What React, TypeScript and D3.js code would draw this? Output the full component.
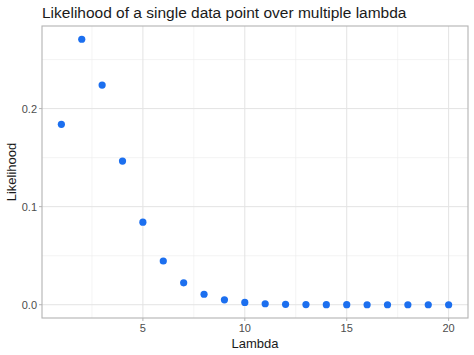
import React from "react";
import * as d3 from "d3";

const lambdas = [1, 2, 3, 4, 5, 6, 7, 8, 9, 10, 11, 12, 13, 14, 15, 16, 17, 18, 19, 20];
const likelihoods = [0.1839, 0.2707, 0.2240, 0.1465, 0.0842, 0.0446, 0.0223, 0.0107, 0.0050, 0.0023, 0.0010, 0.0004, 0.0002, 0.0001, 0.0001, 0.0000, 0.0000, 0.0000, 0.0000, 0.0000];
const xTicks = [5, 10, 15, 20];
const xMinor = [2.5, 7.5, 12.5, 17.5];
const yTicks = [0, 0.1, 0.2];
const yMinor = [0.05, 0.15, 0.25];
const title = "Likelihood of a single data point over multiple lambda";
const xLabel = "Lambda";
const yLabel = "Likelihood";

export default function App() {
  const W = 474, H = 355;
  const left = 42, right = 468, top = 26, bottom = 318;
  const x = d3.scaleLinear().domain([0.05, 20.95]).range([left, right]);
  const y = d3.scaleLinear().domain([-0.01353, 0.2842]).range([bottom, top]);
  const font = "Liberation Sans, Arial, Helvetica, sans-serif";
  return (
    <svg width={W} height={H} style={{ position: "absolute", left: 0, top: 0, background: "#fff" }} fontFamily={font}>
      <rect x={0} y={0} width={W} height={H} fill="#fff" />
      <text x={left} y={18} fontSize={15.5} fill="#1a1a1a">{title}</text>
      {xMinor.map((v) => (
        <line key={"xm" + v} x1={x(v)} x2={x(v)} y1={top} y2={bottom} stroke="#EDEDED" strokeWidth={0.6} />
      ))}
      {yMinor.map((v) => (
        <line key={"ym" + v} x1={left} x2={right} y1={y(v)} y2={y(v)} stroke="#EDEDED" strokeWidth={0.6} />
      ))}
      {xTicks.map((v) => (
        <line key={"xg" + v} x1={x(v)} x2={x(v)} y1={top} y2={bottom} stroke="#E3E3E3" strokeWidth={1} />
      ))}
      {yTicks.map((v) => (
        <line key={"yg" + v} x1={left} x2={right} y1={y(v)} y2={y(v)} stroke="#E3E3E3" strokeWidth={1} />
      ))}
      {lambdas.map((l, i) => (
        <circle key={l} cx={x(l)} cy={y(likelihoods[i])} r={3.6} fill="#1C6FEF" />
      ))}
      <rect x={left} y={top} width={right - left} height={bottom - top} fill="none" stroke="#B3B3B3" strokeWidth={1.1} />
      {xTicks.map((v) => (
        <g key={"xt" + v}>
          <line x1={x(v)} x2={x(v)} y1={bottom} y2={bottom + 3} stroke="#B3B3B3" />
          <text x={x(v)} y={bottom + 14} fontSize={11} fill="#4D4D4D" textAnchor="middle">{v}</text>
        </g>
      ))}
      {yTicks.map((v) => (
        <g key={"yt" + v}>
          <line x1={left - 3} x2={left} y1={y(v)} y2={y(v)} stroke="#B3B3B3" />
          <text x={left - 5} y={y(v) + 4} fontSize={11} fill="#4D4D4D" textAnchor="end">{d3.format(".1f")(v)}</text>
        </g>
      ))}
      <text x={(left + right) / 2} y={348} fontSize={13} fill="#1a1a1a" textAnchor="middle">{xLabel}</text>
      <text transform={`translate(16,${(top + bottom) / 2}) rotate(-90)`} fontSize={13} fill="#1a1a1a" textAnchor="middle">{yLabel}</text>
    </svg>
  );
}
